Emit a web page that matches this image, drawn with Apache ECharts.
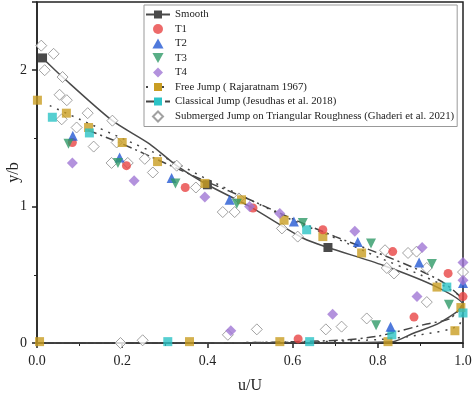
<!DOCTYPE html>
<html>
<head>
<meta charset="utf-8">
<script src="https://cdn.jsdelivr.net/npm/echarts@6/dist/echarts.min.js"></script>
<style>
  html, body { margin: 0; padding: 0; background: #fff; }
  #main { width: 474px; height: 397px; }
</style>
</head>
<body>
<div id="main"></div>
<script>
// u/U, y/b pairs
var smoothCurve = [[0.013, 2.09], [0.06, 1.95], [0.177, 1.63], [0.264, 1.46], [0.328, 1.30], [0.40, 1.16],
    [0.50, 1.0], [0.624, 0.77], [0.683, 0.70], [0.812, 0.57], [0.939, 0.41], [1.0, 0.28],
    [0.946, 0.15], [0.882, 0.07], [0.835, 0.01], [0.6, 0], [0, 0]];
var smoothMarkIdx = [0, 5, 8];

var freeCurve = [[0.03, 1.74], [0.1, 1.64], [0.2, 1.50], [0.3, 1.36], [0.4, 1.20], [0.5, 1.05], [0.6, 0.90],
    [0.7, 0.77], [0.8, 0.63], [0.9, 0.50], [0.96, 0.41], [1.0, 0.31], [0.99, 0.13], [0.9, 0.06],
    [0.8, 0.025], [0.6, 0.005], [0, 0]];
var freePts = [[0.001, 1.78], [0.069, 1.685], [0.121, 1.58], [0.20, 1.47], [0.283, 1.33], [0.394, 1.17],
    [0.48, 1.05], [0.58, 0.90], [0.671, 0.78], [0.762, 0.66], [0.939, 0.41], [0.995, 0.26],
    [0.981, 0.09], [0.824, 0.01], [0.57, 0.01], [0.358, 0.01], [0.006, 0.01]];

var classicCurve = [[0.12, 1.56], [0.2, 1.46], [0.3, 1.32], [0.4, 1.18], [0.5, 1.05], [0.6, 0.91],
    [0.7, 0.78], [0.8, 0.66], [0.9, 0.53], [0.96, 0.43], [1.0, 0.30], [0.97, 0.18], [0.915, 0.14],
    [0.8, 0.05], [0.71, 0.02], [0.5, 0.003], [0.3, 0]];
var classicPts = [[0.036, 1.655], [0.123, 1.54], [0.633, 0.83], [0.962, 0.41], [1.0, 0.22],
    [0.833, 0.06], [0.64, 0.01], [0.307, 0.01]];

var t1 = [[0.083, 1.47], [0.21, 1.30], [0.348, 1.14], [0.507, 0.99], [0.671, 0.83], [0.835, 0.67],
    [0.965, 0.51], [1.0, 0.34], [0.885, 0.19], [0.613, 0.03]];
var t2 = [[0.084, 1.52], [0.194, 1.36], [0.316, 1.21], [0.452, 1.05], [0.603, 0.89], [0.753, 0.74],
    [0.897, 0.59], [1.0, 0.44], [0.830, 0.12]];
var t3 = [[0.074, 1.46], [0.19, 1.32], [0.325, 1.17], [0.469, 1.02], [0.624, 0.88], [0.784, 0.73],
    [0.927, 0.58], [0.967, 0.28], [0.796, 0.13]];
var t4 = [[0.083, 1.32], [0.228, 1.19], [0.394, 1.07], [0.499, 1.0], [0.57, 0.95], [0.746, 0.82],
    [0.904, 0.70], [1.0, 0.59], [1.0, 0.46], [0.892, 0.34], [0.694, 0.21], [0.455, 0.09]];
var submerged = [[0.01, 2.18], [0.039, 2.12], [0.018, 2.0], [0.06, 1.95], [0.053, 1.82], [0.07, 1.78],
    [0.058, 1.64], [0.119, 1.685], [0.093, 1.58], [0.133, 1.44], [0.177, 1.63], [0.187, 1.47],
    [0.175, 1.32], [0.213, 1.32], [0.253, 1.35], [0.328, 1.30], [0.272, 1.25], [0.373, 1.14],
    [0.436, 0.96], [0.464, 0.96], [0.474, 1.06], [0.575, 0.84], [0.612, 0.78], [0.817, 0.68],
    [0.871, 0.66], [0.891, 0.67], [0.821, 0.55], [0.838, 0.51], [0.915, 0.55], [1.0, 0.52],
    [0.915, 0.30], [0.774, 0.18], [0.678, 0.10], [0.715, 0.12], [0.516, 0.10], [0.448, 0.06],
    [0.248, 0.02], [0.196, 0.0]];

var names = ['Smooth', 'T1', 'T2', 'T3', 'T4', 'Free Jump ( Rajaratnam 1967)',
    'Classical Jump (Jesudhas et al. 2018)',
    'Submerged Jump on Triangular Roughness (Ghaderi et al. 2021)'];

var triUp = 'path://M5,0 L10,9 L0,9 Z';
var triDown = 'path://M0,0 L10,0 L5,9 Z';
var diamond = 'path://M5,0 L10,5 L5,10 L0,5 Z';

var serif = 'Liberation Serif';
var myChart = echarts.init(document.getElementById('main'));

function curveOnly(arr) {
    return arr.map(function (p) {
        return { value: p, symbol: 'none' };
    });
}

myChart.setOption({
    animation: false,
    textStyle: { fontFamily: serif },
    grid: {
        left: 37, right: 11, top: 2, bottom: 54,
        outerBoundsMode: 'none',
        containLabel: false,
        show: true, borderColor: '#222', borderWidth: 1.5
    },
    legend: {
        data: [
            { name: names[0] },
            { name: names[1], icon: 'circle' },
            { name: names[2], icon: triUp },
            { name: names[3], icon: triDown },
            { name: names[4], icon: diamond },
            { name: names[5] },
            { name: names[6] },
            { name: names[7], icon: diamond }
        ],
        orient: 'vertical',
        left: 144,
        top: 5,
        padding: [4, 3, 4, 1],
        itemWidth: 24,
        itemHeight: 10,
        itemGap: 3.5,
        backgroundColor: '#fff',
        borderColor: '#999',
        borderWidth: 1,
        textStyle: { fontFamily: serif, fontSize: 10.8, color: '#222' }
    },
    xAxis: {
        type: 'value', min: 0, max: 1, interval: 0.2,
        name: 'u/U', nameLocation: 'middle', nameGap: 35,
        nameTextStyle: { fontFamily: serif, fontSize: 16, color: '#222' },
        axisLine: { lineStyle: { color: '#222', width: 1.5 } },
        axisTick: { length: 5, lineStyle: { color: '#222', width: 1.5 } },
        minorTick: { show: true, splitNumber: 2, length: 3, lineStyle: { color: '#222' } },
        splitLine: { show: false },
        axisLabel: {
            fontFamily: serif, fontSize: 14, color: '#222', margin: 11,
            formatter: function (v) { return v.toFixed(1); }
        }
    },
    yAxis: {
        type: 'value', min: 0, max: 2.5, interval: 1,
        name: 'y/b', nameLocation: 'middle', nameGap: 15,
        nameMoveOverlap: false,
        nameTextStyle: { fontFamily: serif, fontSize: 16, color: '#222' },
        axisLine: { lineStyle: { color: '#222', width: 1.5 } },
        axisTick: { length: 5, lineStyle: { color: '#222', width: 1.5 } },
        minorTick: { show: true, splitNumber: 2, length: 3, lineStyle: { color: '#222' } },
        splitLine: { show: false },
        axisLabel: { fontFamily: serif, fontSize: 14, color: '#222', margin: 10, showMaxLabel: false }
    },
    series: [{
        name: names[0],
        type: 'line',
        smooth: 0.25,
        symbol: 'rect',
        symbolSize: 9,
        itemStyle: { color: '#4a4a4a' },
        lineStyle: { color: '#4a4a4a', width: 1.5 },
        data: smoothCurve.map(function (p, i) {
            return smoothMarkIdx.indexOf(i) >= 0 ? { value: p } : { value: p, symbol: 'none' };
        }),
        z: 3
    }, {
        name: names[5],
        type: 'line',
        smooth: 0.25,
        symbol: 'rect',
        symbolSize: 9,
        itemStyle: { color: '#c99d22' },
        lineStyle: { color: '#444', width: 1.5, type: [2, 6] },
        data: curveOnly(freeCurve),
        z: 2
    }, {
        name: names[6],
        type: 'line',
        smooth: 0.25,
        symbol: 'rect',
        symbolSize: 9,
        itemStyle: { color: '#2cc3c6' },
        lineStyle: { color: '#444', width: 1.5, type: [9, 4, 2, 4] },
        data: curveOnly(classicCurve),
        z: 2
    }, {
        name: names[7],
        type: 'scatter',
        symbol: 'diamond',
        symbolSize: 11,
        itemStyle: { color: '#fff', borderColor: '#8a8a8a', borderWidth: 1 },
        data: submerged,
        z: 3
    }, {
        name: names[5],
        type: 'scatter',
        symbol: 'rect',
        symbolSize: 9,
        itemStyle: { color: '#c99d22' },
        data: freePts,
        z: 4
    }, {
        name: names[6],
        type: 'scatter',
        symbol: 'rect',
        symbolSize: 9,
        itemStyle: { color: '#2cc3c6' },
        data: classicPts,
        z: 4
    }, {
        name: names[1],
        type: 'scatter',
        symbol: 'circle',
        symbolSize: 9,
        itemStyle: { color: '#e84545' },
        data: t1,
        z: 4
    }, {
        name: names[2],
        type: 'scatter',
        symbol: 'triangle',
        symbolSize: 10,
        itemStyle: { color: '#2459d3' },
        data: t2,
        z: 4
    }, {
        name: names[3],
        type: 'scatter',
        symbol: triDown,
        symbolSize: 10,
        itemStyle: { color: '#2f9a68' },
        data: t3,
        z: 4
    }, {
        name: names[4],
        type: 'scatter',
        symbol: 'diamond',
        symbolSize: 11,
        itemStyle: { color: '#a077d4' },
        data: t4,
        z: 4
    }]
});
</script>
</body>
</html>
